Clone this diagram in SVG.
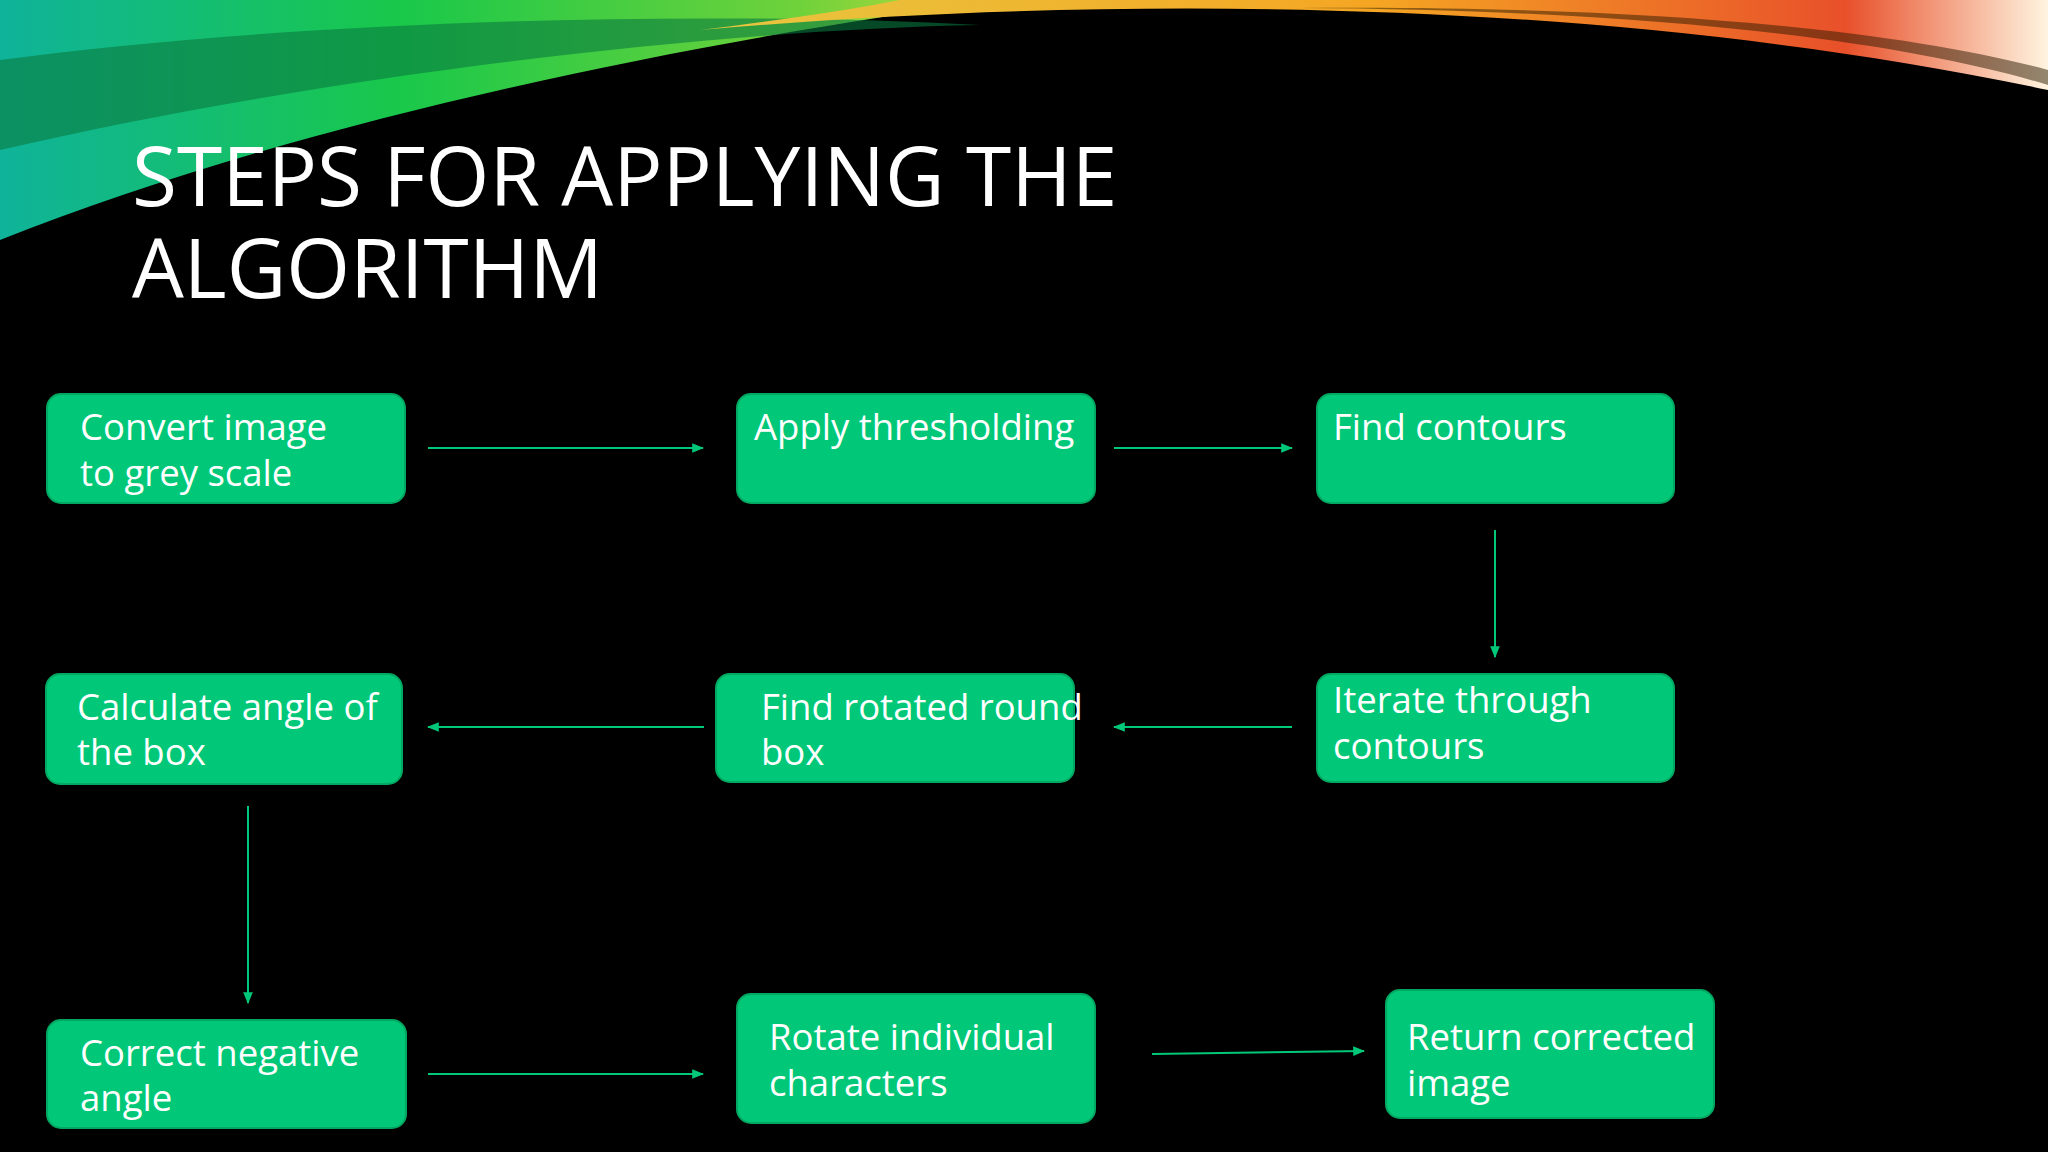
<svg xmlns="http://www.w3.org/2000/svg" width="2048" height="1152" viewBox="0 0 2048 1152">
<defs>
<linearGradient id="g1" x1="0" y1="0" x2="1" y2="0"><stop offset="0" stop-color="#0fb39a"/><stop offset="0.4" stop-color="#19c84a"/><stop offset="0.8" stop-color="#6fd23a"/><stop offset="1" stop-color="#c8d840"/></linearGradient>
<linearGradient id="g2" x1="0" y1="0" x2="1" y2="0"><stop offset="0" stop-color="#e8c640"/><stop offset="0.5" stop-color="#f5a623"/><stop offset="0.85" stop-color="#e8502a"/><stop offset="1" stop-color="#fff4e0"/></linearGradient>
<marker id="ah" viewBox="0 0 10 10" refX="9" refY="5" markerWidth="6" markerHeight="6" orient="auto"><path d="M0,1 L10,5 L0,9 Z" fill="#00c878"/></marker>
<style>
.box{fill:#00c878;stroke:#00a862;stroke-width:2}
.t{font-family:"Open Sans","Noto Sans",sans-serif;font-size:36.5px;fill:#fff}
.c{stroke:#00c878;stroke-width:2;fill:none;marker-end:url(#ah)}
</style>
</defs>
<rect width="2048" height="1152" fill="#000"/>
<path d="M0,0 L1000,0 C700,40 300,120 0,240 Z" fill="url(#g1)"/>
<path d="M0,60 C300,20 700,10 980,25 C700,30 300,80 0,150 Z" fill="#0a7a40" opacity="0.6"/>
<path d="M700,30 C1100,-5 1600,-5 2048,90 L2048,0 L900,0 C850,10 780,20 700,30 Z" fill="url(#g2)"/>
<path d="M1300,8 C1650,10 1900,40 2048,85 L2048,70 C1900,30 1650,5 1300,8 Z" fill="#2a1a00" opacity="0.5"/>
<g id="title" font-family="Open Sans,Noto Sans,sans-serif" font-size="82" fill="#fff">
<text x="132" y="206">STEPS FOR APPLYING THE</text>
<text x="132" y="298">ALGORITHM</text>
</g>
<g id="connectors">
<line class="c" x1="428" y1="448" x2="703" y2="448"/>
<line class="c" x1="1114" y1="448" x2="1292" y2="448"/>
<line class="c" x1="1495" y1="530" x2="1495" y2="657"/>
<line class="c" x1="1292" y1="727" x2="1114" y2="727"/>
<line class="c" x1="704" y1="727" x2="428" y2="727"/>
<line class="c" x1="248" y1="806" x2="248" y2="1003"/>
<line class="c" x1="428" y1="1074" x2="703" y2="1074"/>
<line class="c" x1="1152" y1="1054" x2="1364" y2="1051"/>
</g>
<g id="n1"><rect class="box" x="47" y="394" width="358" height="109" rx="14"/><text class="t" x="80" y="440">Convert image</text><text class="t" x="80" y="486">to grey scale</text></g>
<g id="n2"><rect class="box" x="737" y="394" width="358" height="109" rx="14"/><text class="t" x="754" y="440">Apply thresholding</text></g>
<g id="n3"><rect class="box" x="1317" y="394" width="357" height="109" rx="14"/><text class="t" x="1333" y="440">Find contours</text></g>
<g id="n4"><rect class="box" x="1317" y="674" width="357" height="108" rx="14"/><text class="t" x="1333" y="713">Iterate through</text><text class="t" x="1333" y="759">contours</text></g>
<g id="n5"><rect class="box" x="716" y="674" width="358" height="108" rx="14"/><text class="t" x="761" y="720">Find rotated round</text><text class="t" x="761" y="765">box</text></g>
<g id="n6"><rect class="box" x="46" y="674" width="356" height="110" rx="14"/><text class="t" x="77" y="720">Calculate angle of</text><text class="t" x="77" y="765">the box</text></g>
<g id="n7"><rect class="box" x="47" y="1020" width="359" height="108" rx="14"/><text class="t" x="80" y="1066">Correct negative</text><text class="t" x="80" y="1111">angle</text></g>
<g id="n8"><rect class="box" x="737" y="994" width="358" height="129" rx="14"/><text class="t" x="769" y="1050">Rotate individual</text><text class="t" x="769" y="1096">characters</text></g>
<g id="n9"><rect class="box" x="1386" y="990" width="328" height="128" rx="14"/><text class="t" x="1407" y="1050">Return corrected</text><text class="t" x="1407" y="1096">image</text></g>
</svg>
